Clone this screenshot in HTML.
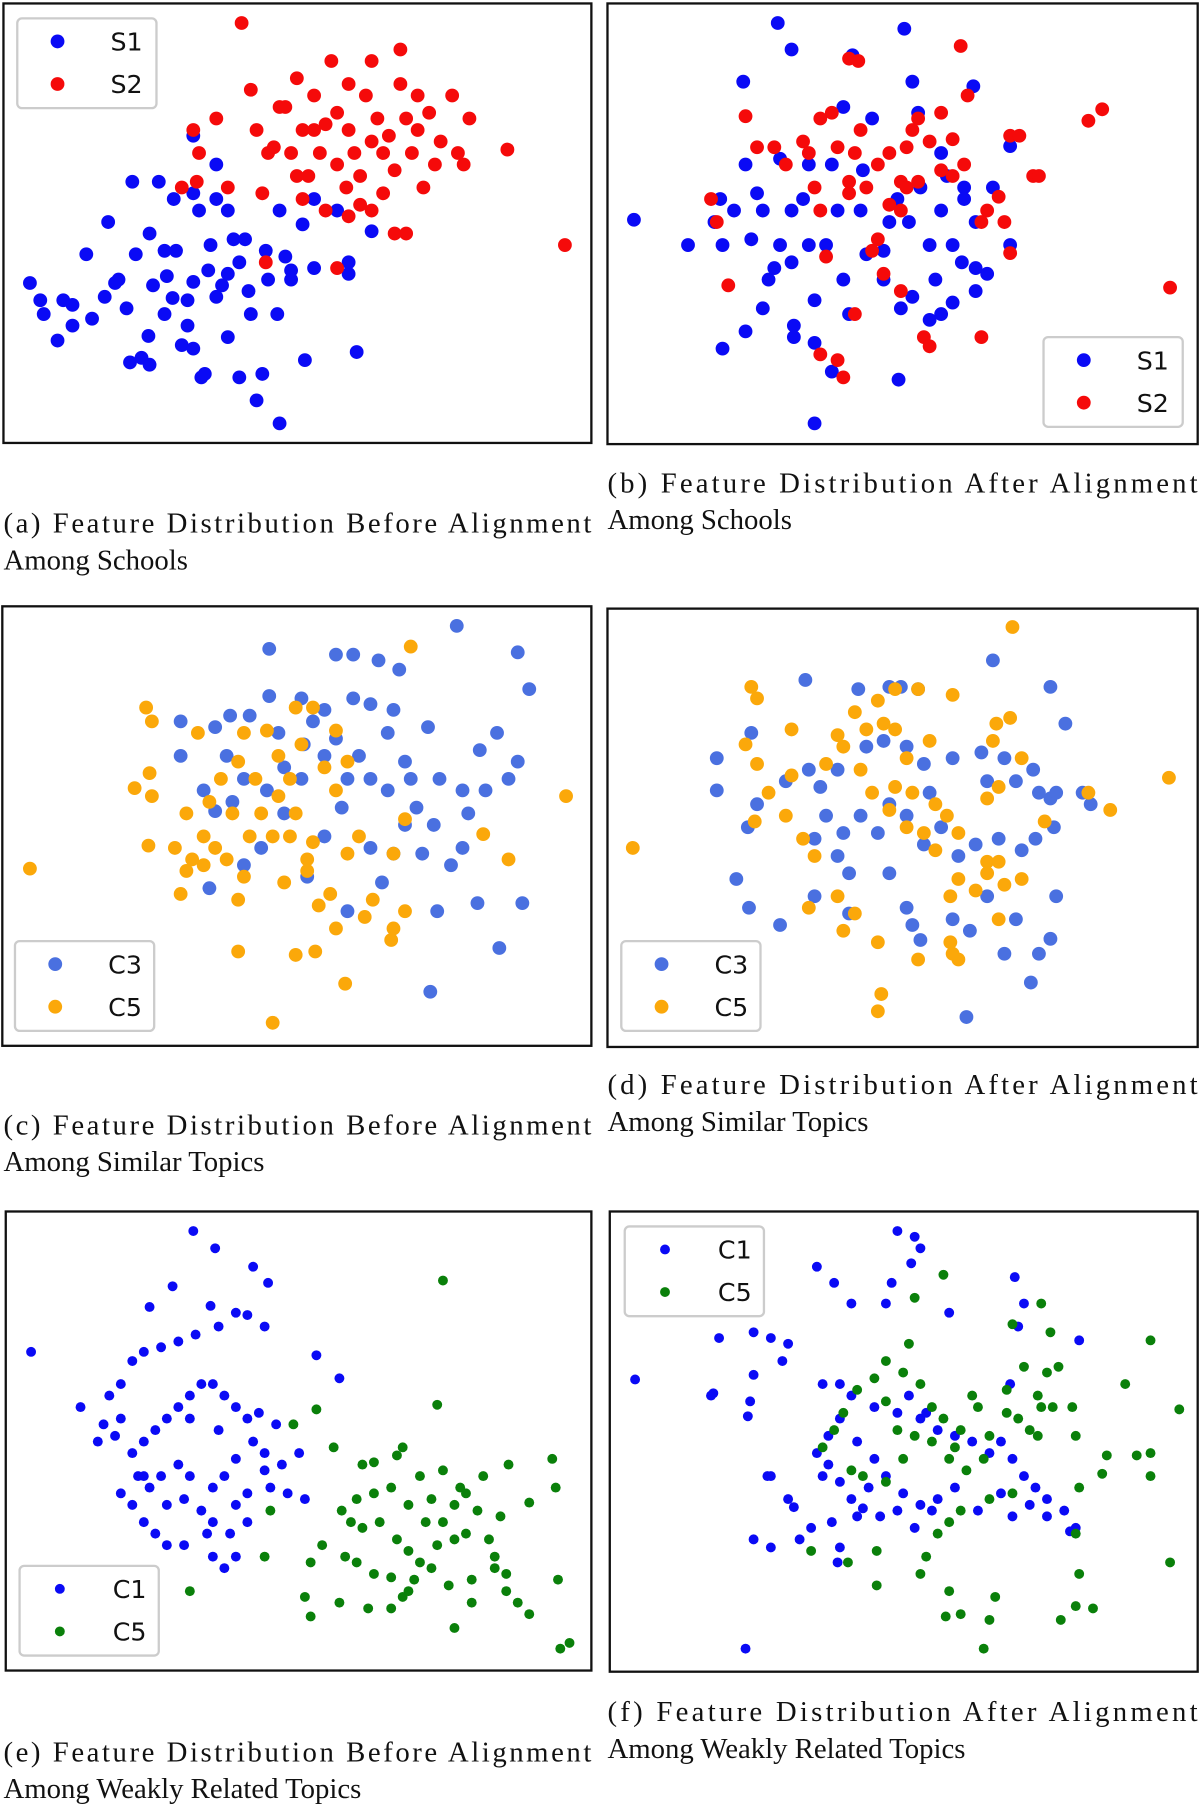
<!DOCTYPE html>
<html><head><meta charset="utf-8"><style>
html,body{margin:0;padding:0;background:#fff;}
svg{display:block}
.cap{font-family:"Liberation Serif",serif;font-size:25px;fill:#111}
.leg{font-family:"DejaVu Sans","Liberation Sans",sans-serif;font-size:22px;fill:#111}
</style></head><body>
<svg id="fig" width="1200" height="1804" viewBox="0 0 1043 1568" xmlns="http://www.w3.org/2000/svg">
<g id="panels"></g>
<g>
<text class="cap" x="3" y="463" textLength="511" lengthAdjust="spacing">(a) Feature Distribution Before Alignment</text>
<text class="cap" x="3" y="495">Among Schools</text>
<text class="cap" x="528" y="428" textLength="513" lengthAdjust="spacing">(b) Feature Distribution After Alignment</text>
<text class="cap" x="528" y="460">Among Schools</text>
<text class="cap" x="3" y="986" textLength="511" lengthAdjust="spacing">(c) Feature Distribution Before Alignment</text>
<text class="cap" x="3" y="1018">Among Similar Topics</text>
<text class="cap" x="528" y="951" textLength="513" lengthAdjust="spacing">(d) Feature Distribution After Alignment</text>
<text class="cap" x="528" y="983">Among Similar Topics</text>
<text class="cap" x="3" y="1531" textLength="511" lengthAdjust="spacing">(e) Feature Distribution Before Alignment</text>
<text class="cap" x="3" y="1563">Among Weakly Related Topics</text>
<text class="cap" x="528" y="1496" textLength="513" lengthAdjust="spacing">(f) Feature Distribution After Alignment</text>
<text class="cap" x="528" y="1528">Among Weakly Related Topics</text>
</g>
</svg>
<script>
const aS1=[[23,243],[32,258],[47,293],[35,270],[60,262],[72,218],[77,274],[91,190],[97,243],[107,265],[110,312],[120,308],[127,314],[126,289],[142,237],[147,256],[155,297],[160,258],[165,242],[172,325],[175,322],[190,245],[195,290],[205,325],[220,345],[240,365],[225,322],[262,310],[307,303],[215,270],[238,270],[230,240],[250,232],[270,170],[300,225],[180,210],[200,205],[170,180],[185,170],[195,180],[135,155],[112,155],[127,200],[150,215],[165,165],[185,140],[165,115],[213,250],[240,180],[245,220],[100,240],[60,280],[52,258],[140,215],[115,218],[148,170],[210,205],[195,235],[178,232],[130,245],[88,255],[160,280],[140,270],[205,225],[228,215],[185,255],[165,300],[290,180],[320,198],[260,192],[250,240],[300,235],[270,230]];
const aS2=[[207,17],[165,110],[170,130],[155,160],[168,155],[185,100],[195,160],[215,75],[225,165],[235,125],[245,90],[255,150],[260,110],[270,80],[275,130],[285,50],[290,95],[300,70],[305,130],[310,150],[320,50],[325,100],[330,130],[345,40],[350,100],[355,130],[365,160],[370,95],[380,120],[395,130],[405,100],[438,127],[488,210],[320,180],[340,200],[350,200],[290,230],[280,180],[300,185],[260,170],[240,90],[250,130],[265,150],[310,175],[330,165],[360,80],[375,140],[290,140],[300,110],[320,120],[335,115],[345,70],[280,105],[230,130],[220,110],[270,110],[360,110],[390,80],[400,140],[340,145],[315,80],[298,160],[255,65],[228,225]];
const bS1=[[148,17],[160,40],[213,45],[258,22],[118,68],[265,68],[318,72],[23,188],[70,210],[100,210],[93,190],[98,170],[120,140],[125,205],[130,165],[150,135],[140,240],[135,265],[120,285],[100,300],[162,290],[180,295],[180,258],[162,280],[195,320],[180,365],[210,270],[253,327],[225,218],[240,240],[255,265],[265,255],[280,275],[285,240],[290,270],[300,210],[290,180],[295,150],[270,95],[230,100],[205,90],[195,140],[200,180],[190,210],[175,210],[170,170],[160,180],[150,210],[145,230],[160,225],[222,145],[245,190],[252,170],[262,190],[272,160],[290,130],[310,160],[335,160],[350,124],[320,190],[330,235],[320,250],[308,225],[300,260],[350,210],[220,180],[110,180],[135,180],[175,140],[205,240],[240,215],[280,210],[320,230],[310,170]];
const bS2=[[210,48],[218,50],[307,37],[313,80],[418,102],[430,92],[489,247],[350,115],[358,115],[370,150],[375,150],[345,190],[330,180],[350,217],[325,190],[105,245],[90,170],[95,190],[120,98],[130,125],[145,125],[155,140],[170,120],[175,130],[185,100],[195,95],[200,125],[215,130],[220,110],[225,160],[235,140],[245,130],[255,155],[260,125],[265,110],[270,100],[280,120],[290,95],[300,118],[300,150],[260,160],[245,175],[235,205],[230,215],[240,235],[255,250],[215,270],[185,305],[200,310],[205,325],[275,290],[280,298],[325,290],[210,155],[185,180],[190,220],[270,155],[310,140],[210,165],[290,145],[340,168],[255,180],[180,160]];
const cC3=[[232,37],[290,42],[305,42],[327,47],[345,55],[395,17],[448,40],[458,72],[448,135],[430,110],[415,125],[400,160],[405,180],[375,190],[360,175],[350,135],[335,110],[320,85],[305,80],[280,90],[260,80],[232,78],[215,95],[198,95],[185,105],[155,100],[155,130],[175,160],[185,178],[180,245],[210,225],[225,210],[245,180],[265,235],[280,200],[295,175],[300,150],[320,150],[320,210],[330,240],[340,215],[350,190],[365,215],[378,265],[390,225],[400,210],[413,258],[432,297],[452,258],[372,335],[300,265],[280,130],[262,120],[245,140],[290,115],[335,160],[355,150],[260,150],[240,110],[270,100],[310,130],[380,150],[420,160],[440,150],[340,90],[370,105],[230,160],[210,150],[200,170],[195,130]];
const cC5=[[355,35],[24,228],[125,88],[130,100],[128,145],[130,165],[115,158],[127,208],[150,210],[155,250],[165,220],[175,200],[180,170],[190,150],[205,135],[210,110],[230,108],[255,88],[270,88],[290,108],[300,135],[280,140],[260,120],[240,130],[240,165],[225,180],[215,200],[210,235],[205,255],[205,300],[235,362],[255,303],[272,300],[298,328],[285,250],[290,280],[315,270],[322,255],[338,290],[340,280],[350,265],[350,185],[340,215],[310,200],[300,215],[270,205],[265,220],[255,180],[250,200],[235,200],[200,180],[185,210],[175,225],[160,230],[490,165],[418,198],[440,220],[170,110],[250,150],[290,160],[265,230],[195,220],[160,180],[220,150],[245,240],[275,260]];
const dC3=[[335,45],[172,62],[218,70],[245,68],[255,68],[270,70],[385,68],[398,100],[125,108],[95,130],[95,158],[122,190],[130,170],[155,150],[175,140],[185,155],[200,140],[225,120],[240,115],[260,120],[275,135],[280,160],[300,130],[325,125],[330,150],[345,130],[355,150],[370,140],[375,160],[385,165],[388,190],[372,200],[360,210],[340,200],[320,205],[305,215],[290,190],[275,205],[260,180],[245,170],[235,195],[220,180],[205,195],[190,180],[180,200],[112,235],[123,260],[150,275],[210,230],[245,230],[260,260],[265,275],[300,270],[315,280],[330,250],[355,270],[345,300],[375,300],[390,250],[368,325],[385,287],[390,160],[413,160],[420,170],[312,355],[210,265],[272,288],[180,250],[200,215]];
const dC5=[[352,16],[488,147],[22,208],[125,68],[130,78],[120,118],[130,135],[128,185],[155,180],[170,200],[180,215],[175,260],[200,250],[215,265],[205,280],[235,290],[270,305],[298,290],[305,305],[298,250],[320,245],[330,230],[305,235],[285,210],[275,195],[260,190],[245,175],[230,160],[220,140],[205,120],[200,110],[215,90],[235,80],[250,70],[270,70],[300,75],[225,105],[240,100],[260,130],[250,155],[265,160],[285,170],[295,180],[305,195],[330,220],[340,220],[345,240],[340,270],[360,235],[330,165],[340,155],[335,115],[338,100],[350,95],[360,130],[250,105],[280,115],[238,335],[300,300],[235,350],[380,185],[418,160],[437,175],[160,145],[190,135],[160,105],[140,160]];
const eC1=[[163,17],[182,32],[215,48],[228,62],[145,65],[125,83],[178,82],[200,88],[210,90],[225,100],[185,100],[165,107],[150,113],[135,118],[120,122],[110,130],[100,150],[90,160],[85,185],[65,170],[80,200],[95,195],[110,210],[120,200],[130,190],[140,180],[150,170],[160,160],[170,150],[180,150],[190,160],[200,170],[210,180],[220,175],[235,185],[225,210],[215,200],[200,215],[190,230],[180,240],[160,230],[150,220],[135,230],[125,240],[115,230],[100,245],[110,255],[120,270],[130,280],[140,290],[155,290],[175,280],[180,270],[195,280],[210,270],[200,255],[170,260],[225,225],[240,220],[255,210],[260,250],[245,245],[230,240],[210,245],[200,300],[190,310],[180,300],[140,255],[155,250],[270,125],[290,145],[22,122],[120,230],[100,180],[185,190],[160,180]];
const eC5=[[380,60],[375,168],[270,172],[285,205],[310,220],[320,218],[345,205],[340,212],[360,230],[380,225],[395,240],[415,230],[437,220],[475,215],[478,240],[455,253],[430,265],[410,260],[400,245],[390,255],[370,250],[350,255],[335,240],[320,245],[305,250],[292,260],[300,270],[310,275],[325,270],[340,285],[350,295],[360,305],[375,290],[390,285],[400,280],[420,285],[425,310],[405,320],[385,325],[370,310],[355,320],[345,335],[335,318],[320,315],[305,305],[295,300],[275,290],[265,305],[260,335],[290,340],[315,345],[335,345],[350,330],[405,340],[435,330],[445,340],[455,350],[480,320],[482,380],[490,375],[390,362],[265,352],[225,300],[230,260],[250,185],[160,330],[425,300],[365,270],[380,270],[435,315]];
const fC1=[[250,17],[265,22],[270,32],[180,48],[195,62],[210,80],[245,62],[240,80],[262,45],[295,88],[352,57],[360,80],[355,100],[408,112],[348,150],[95,110],[125,105],[140,110],[155,115],[150,130],[125,142],[122,165],[90,158],[120,178],[22,146],[88,160],[185,150],[200,150],[210,160],[230,170],[250,175],[270,180],[285,190],[300,195],[315,200],[330,210],[340,200],[350,215],[360,230],[370,240],[380,250],[395,260],[405,275],[400,278],[380,265],[365,255],[350,265],[340,245],[320,260],[300,240],[285,250],[270,255],[255,245],[240,230],[230,215],[215,200],[200,180],[190,195],[180,210],[190,220],[200,235],[210,250],[220,258],[235,265],[250,260],[265,275],[280,260],[185,230],[175,275],[165,285],[140,230],[137,230],[155,250],[160,257],[193,270],[200,292],[198,305],[215,265],[260,160],[275,175],[125,285],[140,292],[118,380],[225,240]];
const fC5=[[290,55],[265,75],[350,98],[375,80],[383,105],[405,195],[408,240],[405,280],[408,315],[405,343],[470,112],[448,150],[495,172],[470,210],[458,212],[470,230],[432,212],[428,228],[372,195],[372,160],[360,135],[345,155],[320,170],[305,190],[290,180],[280,170],[270,150],[255,140],[240,130],[230,145],[215,155],[203,175],[195,190],[185,205],[210,225],[220,230],[240,235],[255,215],[265,195],[280,200],[295,215],[300,205],[310,225],[325,215],[330,195],[345,175],[355,180],[365,190],[375,170],[380,140],[390,135],[385,170],[350,245],[330,250],[305,260],[295,270],[285,280],[275,300],[270,315],[295,330],[292,352],[305,350],[330,355],[325,380],[335,335],[232,325],[232,295],[175,295],[207,305],[392,355],[420,345],[487,305],[402,170],[260,115],[240,165],[250,190],[315,160]];

const NS='http://www.w3.org/2000/svg';
const root=document.getElementById('panels');
function mk(tag,attrs,parent){const e=document.createElementNS(NS,tag);for(const k in attrs)e.setAttribute(k,attrs[k]);parent.appendChild(e);return e;}
const panels=[
 {id:'a',box:[3,3,511,382],dom:[511,382],r:6,series:[['S1',aS1,'#0a0af5'],['S2',aS2,'#f50a0a']],leg:[15,16]},
 {id:'b',box:[528,3,513,383],dom:[513,383],r:6,series:[['S1',bS1,'#0a0af5'],['S2',bS2,'#f50a0a']],leg:[907,293]},
 {id:'c',box:[2,527,512,382],dom:[512,382],r:6,series:[['C3',cC3,'#4a70e0'],['C5',cC5,'#fba80a']],leg:[13,818]},
 {id:'d',box:[528,529,513,381],dom:[513,381],r:6,series:[['C3',dC3,'#4a70e0'],['C5',dC5,'#fba80a']],leg:[540,818]},
 {id:'e',box:[5,1053,509,399],dom:[509,399],r:4.3,series:[['C1',eC1,'#0a0af5'],['C5',eC5,'#0a800a']],leg:[17,1361]},
 {id:'f',box:[530,1053,511,400],dom:[511,400],r:4.3,series:[['C1',fC1,'#0a0af5'],['C5',fC5,'#0a800a']],leg:[543,1066]}
];
panels.forEach(p=>{
 const g=mk('g',{},root);
 
 
 const [L,T,W,H]=p.box;
 const xs=v=>L+v/p.dom[0]*W, ys=v=>T+v/p.dom[1]*H;
 const fr=mk('rect',{x:L,y:T,width:W,height:H,fill:'#fff',stroke:'#111','stroke-width':2},g);
 
 
 p.series.forEach(([name,pts,col])=>{
  const sg=mk('g',{fill:col},g);
  
  
  pts.forEach(pt=>{
   const c=mk('circle',{cx:xs(pt[0]),cy:ys(pt[1]),r:p.r},sg);
   
   
  });
 });
 const [lx,ly]=p.leg;
 const lg=mk('g',{},g);
 
 
 mk('rect',{x:lx,y:ly,width:121,height:78,rx:4,fill:'#fff','fill-opacity':0.85,stroke:'#ccc','stroke-width':2},lg);
 p.series.forEach(([name,pts,col],i)=>{
  const cy=ly+20+i*37;
  const c=mk('circle',{cx:lx+35,cy:cy,r:p.r,fill:col},lg);
  
  
  const t=mk('text',{x:lx+81,y:cy+8,class:'leg'},lg);
  t.textContent=name;
  
  
 });
});
</script>
</body></html>
